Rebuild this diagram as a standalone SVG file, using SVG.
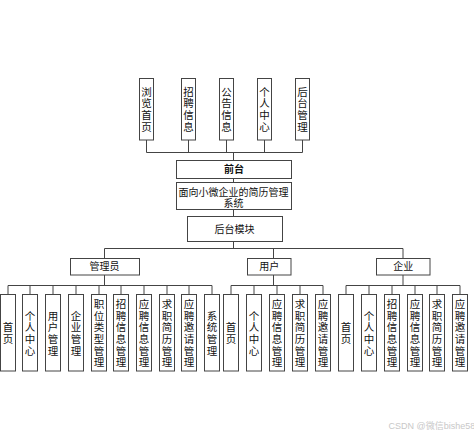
<svg xmlns="http://www.w3.org/2000/svg" width="474" height="434" viewBox="0 0 474 434">
<style>
rect{fill:#fff;stroke:#444;stroke-width:1}
.c line{stroke:#444;stroke-width:1}
text{font-family:"Noto Sans CJK SC","Liberation Sans",sans-serif;font-size:10.5px;fill:#111;text-anchor:middle}
.m{font-size:10px}
.wm{font-size:9px;fill:#c8c8c8;text-anchor:start;font-family:"Liberation Sans","Noto Sans CJK SC",sans-serif}
</style>
<rect x="0" y="0" width="474" height="434" style="stroke:none"/>
<g class="c" id="connectors">
<line x1="146.5" y1="140" x2="146.5" y2="152.5"/>
<line x1="188.5" y1="140" x2="188.5" y2="152.5"/>
<line x1="226.5" y1="140" x2="226.5" y2="152.5"/>
<line x1="264.5" y1="140" x2="264.5" y2="152.5"/>
<line x1="302.5" y1="140" x2="302.5" y2="152.5"/>
<line x1="146.5" y1="152.5" x2="302.5" y2="152.5"/>
<line x1="233.5" y1="152.5" x2="233.5" y2="160.5"/>
<line x1="233.5" y1="178.5" x2="233.5" y2="182.5"/>
<line x1="233.5" y1="209.5" x2="233.5" y2="216.5"/>
<line x1="233.5" y1="241.5" x2="233.5" y2="248.5"/>
<line x1="104.5" y1="248.5" x2="403" y2="248.5"/>
<line x1="104.5" y1="248.5" x2="104.5" y2="258.5"/>
<line x1="273.5" y1="248.5" x2="273.5" y2="258.5"/>
<line x1="403" y1="248.5" x2="403" y2="258.5"/>
<line x1="104.5" y1="275" x2="104.5" y2="285.5"/>
<line x1="273.5" y1="275" x2="273.5" y2="285.5"/>
<line x1="403" y1="275" x2="403" y2="285.5"/>
<line x1="8" y1="285.5" x2="212" y2="285.5"/>
<line x1="231" y1="285.5" x2="323" y2="285.5"/>
<line x1="346" y1="285.5" x2="460" y2="285.5"/>
<line x1="8" y1="285.5" x2="8" y2="294.5"/>
<line x1="30" y1="285.5" x2="30" y2="294.5"/>
<line x1="53" y1="285.5" x2="53" y2="294.5"/>
<line x1="76" y1="285.5" x2="76" y2="294.5"/>
<line x1="99" y1="285.5" x2="99" y2="294.5"/>
<line x1="121" y1="285.5" x2="121" y2="294.5"/>
<line x1="144" y1="285.5" x2="144" y2="294.5"/>
<line x1="167" y1="285.5" x2="167" y2="294.5"/>
<line x1="189" y1="285.5" x2="189" y2="294.5"/>
<line x1="212" y1="285.5" x2="212" y2="294.5"/>
<line x1="231" y1="285.5" x2="231" y2="294.5"/>
<line x1="254" y1="285.5" x2="254" y2="294.5"/>
<line x1="277" y1="285.5" x2="277" y2="294.5"/>
<line x1="300" y1="285.5" x2="300" y2="294.5"/>
<line x1="323" y1="285.5" x2="323" y2="294.5"/>
<line x1="346" y1="285.5" x2="346" y2="294.5"/>
<line x1="369" y1="285.5" x2="369" y2="294.5"/>
<line x1="392" y1="285.5" x2="392" y2="294.5"/>
<line x1="415" y1="285.5" x2="415" y2="294.5"/>
<line x1="437" y1="285.5" x2="437" y2="294.5"/>
<line x1="460" y1="285.5" x2="460" y2="294.5"/>
</g>
<g id="top-browse"><rect x="139.5" y="78.5" width="14" height="61.5"/><text x="146.5" y="95.7">浏<tspan x="146.5" dy="11.7">览</tspan><tspan x="146.5" dy="11.7">首</tspan><tspan x="146.5" dy="11.7">页</tspan></text></g>
<g id="top-recruit"><rect x="181.5" y="78.5" width="14" height="61.5"/><text x="188.5" y="95.7">招<tspan x="188.5" dy="11.7">聘</tspan><tspan x="188.5" dy="11.7">信</tspan><tspan x="188.5" dy="11.7">息</tspan></text></g>
<g id="top-notice"><rect x="219.5" y="78.5" width="14" height="61.5"/><text x="226.5" y="95.7">公<tspan x="226.5" dy="11.7">告</tspan><tspan x="226.5" dy="11.7">信</tspan><tspan x="226.5" dy="11.7">息</tspan></text></g>
<g id="top-personal"><rect x="257.5" y="78.5" width="14" height="61.5"/><text x="264.5" y="95.7">个<tspan x="264.5" dy="11.7">人</tspan><tspan x="264.5" dy="11.7">中</tspan><tspan x="264.5" dy="11.7">心</tspan></text></g>
<g id="top-admin"><rect x="295.5" y="78.5" width="14" height="61.5"/><text x="302.5" y="95.7">后<tspan x="302.5" dy="11.7">台</tspan><tspan x="302.5" dy="11.7">管</tspan><tspan x="302.5" dy="11.7">理</tspan></text></g>
<g id="frontend"><rect x="176.5" y="160.5" width="115" height="18"/><text class="m" x="234" y="173.3" font-weight="bold">前台</text></g>
<g id="system"><rect x="176.5" y="182.5" width="115" height="27"/><text class="m" x="233.5" y="196.3">面向小微企业的简历管理</text><text class="m" x="233.5" y="207">系统</text></g>
<g id="backend"><rect x="187.5" y="216.5" width="95" height="25"/><text class="m" x="234.5" y="232.7">后台模块</text></g>
<g id="role-admin"><rect x="70.5" y="258.5" width="69" height="16.5"/><text class="m" x="104.5" y="270.3">管理员</text></g>
<g id="role-user"><rect x="247.5" y="258.5" width="43.5" height="16.5"/><text class="m" x="269.3" y="270.3">用户</text></g>
<g id="role-company"><rect x="376.5" y="258.5" width="53.5" height="16.5"/><text class="m" x="403.3" y="270.3">企业</text></g>
<g id="a1"><rect x="0.5" y="294.5" width="15" height="76.5"/><text x="8" y="331.2">首<tspan x="8" dy="11.7">页</tspan></text></g>
<g id="a2"><rect x="22.5" y="294.5" width="15" height="76.5"/><text x="30" y="319.5">个<tspan x="30" dy="11.7">人</tspan><tspan x="30" dy="11.7">中</tspan><tspan x="30" dy="11.7">心</tspan></text></g>
<g id="a3"><rect x="45.5" y="294.5" width="15" height="76.5"/><text x="53" y="319.5">用<tspan x="53" dy="11.7">户</tspan><tspan x="53" dy="11.7">管</tspan><tspan x="53" dy="11.7">理</tspan></text></g>
<g id="a4"><rect x="68.5" y="294.5" width="15" height="76.5"/><text x="76" y="319.5">企<tspan x="76" dy="11.7">业</tspan><tspan x="76" dy="11.7">管</tspan><tspan x="76" dy="11.7">理</tspan></text></g>
<g id="a5"><rect x="91.5" y="294.5" width="15" height="76.5"/><text x="99" y="307.8">职<tspan x="99" dy="11.7">位</tspan><tspan x="99" dy="11.7">类</tspan><tspan x="99" dy="11.7">型</tspan><tspan x="99" dy="11.7">管</tspan><tspan x="99" dy="11.7">理</tspan></text></g>
<g id="a6"><rect x="113.5" y="294.5" width="15" height="76.5"/><text x="121" y="307.8">招<tspan x="121" dy="11.7">聘</tspan><tspan x="121" dy="11.7">信</tspan><tspan x="121" dy="11.7">息</tspan><tspan x="121" dy="11.7">管</tspan><tspan x="121" dy="11.7">理</tspan></text></g>
<g id="a7"><rect x="136.5" y="294.5" width="15" height="76.5"/><text x="144" y="307.8">应<tspan x="144" dy="11.7">聘</tspan><tspan x="144" dy="11.7">信</tspan><tspan x="144" dy="11.7">息</tspan><tspan x="144" dy="11.7">管</tspan><tspan x="144" dy="11.7">理</tspan></text></g>
<g id="a8"><rect x="159.5" y="294.5" width="15" height="76.5"/><text x="167" y="307.8">求<tspan x="167" dy="11.7">职</tspan><tspan x="167" dy="11.7">简</tspan><tspan x="167" dy="11.7">历</tspan><tspan x="167" dy="11.7">管</tspan><tspan x="167" dy="11.7">理</tspan></text></g>
<g id="a9"><rect x="181.5" y="294.5" width="15" height="76.5"/><text x="189" y="307.8">应<tspan x="189" dy="11.7">聘</tspan><tspan x="189" dy="11.7">邀</tspan><tspan x="189" dy="11.7">请</tspan><tspan x="189" dy="11.7">管</tspan><tspan x="189" dy="11.7">理</tspan></text></g>
<g id="a10"><rect x="204.5" y="294.5" width="15" height="76.5"/><text x="212" y="319.5">系<tspan x="212" dy="11.7">统</tspan><tspan x="212" dy="11.7">管</tspan><tspan x="212" dy="11.7">理</tspan></text></g>
<g id="u1"><rect x="223.5" y="294.5" width="15" height="76.5"/><text x="231" y="331.2">首<tspan x="231" dy="11.7">页</tspan></text></g>
<g id="u2"><rect x="246.5" y="294.5" width="15" height="76.5"/><text x="254" y="319.5">个<tspan x="254" dy="11.7">人</tspan><tspan x="254" dy="11.7">中</tspan><tspan x="254" dy="11.7">心</tspan></text></g>
<g id="u3"><rect x="269.5" y="294.5" width="15" height="76.5"/><text x="277" y="307.8">应<tspan x="277" dy="11.7">聘</tspan><tspan x="277" dy="11.7">信</tspan><tspan x="277" dy="11.7">息</tspan><tspan x="277" dy="11.7">管</tspan><tspan x="277" dy="11.7">理</tspan></text></g>
<g id="u4"><rect x="292.5" y="294.5" width="15" height="76.5"/><text x="300" y="307.8">求<tspan x="300" dy="11.7">职</tspan><tspan x="300" dy="11.7">简</tspan><tspan x="300" dy="11.7">历</tspan><tspan x="300" dy="11.7">管</tspan><tspan x="300" dy="11.7">理</tspan></text></g>
<g id="u5"><rect x="315.5" y="294.5" width="15" height="76.5"/><text x="323" y="307.8">应<tspan x="323" dy="11.7">聘</tspan><tspan x="323" dy="11.7">邀</tspan><tspan x="323" dy="11.7">请</tspan><tspan x="323" dy="11.7">管</tspan><tspan x="323" dy="11.7">理</tspan></text></g>
<g id="e1"><rect x="338.5" y="294.5" width="15" height="76.5"/><text x="346" y="331.2">首<tspan x="346" dy="11.7">页</tspan></text></g>
<g id="e2"><rect x="361.5" y="294.5" width="15" height="76.5"/><text x="369" y="319.5">个<tspan x="369" dy="11.7">人</tspan><tspan x="369" dy="11.7">中</tspan><tspan x="369" dy="11.7">心</tspan></text></g>
<g id="e3"><rect x="384.5" y="294.5" width="15" height="76.5"/><text x="392" y="307.8">招<tspan x="392" dy="11.7">聘</tspan><tspan x="392" dy="11.7">信</tspan><tspan x="392" dy="11.7">息</tspan><tspan x="392" dy="11.7">管</tspan><tspan x="392" dy="11.7">理</tspan></text></g>
<g id="e4"><rect x="407.5" y="294.5" width="15" height="76.5"/><text x="415" y="307.8">应<tspan x="415" dy="11.7">聘</tspan><tspan x="415" dy="11.7">信</tspan><tspan x="415" dy="11.7">息</tspan><tspan x="415" dy="11.7">管</tspan><tspan x="415" dy="11.7">理</tspan></text></g>
<g id="e5"><rect x="429.5" y="294.5" width="15" height="76.5"/><text x="437" y="307.8">求<tspan x="437" dy="11.7">职</tspan><tspan x="437" dy="11.7">简</tspan><tspan x="437" dy="11.7">历</tspan><tspan x="437" dy="11.7">管</tspan><tspan x="437" dy="11.7">理</tspan></text></g>
<g id="e6"><rect x="452.5" y="294.5" width="15" height="76.5"/><text x="460" y="307.8">应<tspan x="460" dy="11.7">聘</tspan><tspan x="460" dy="11.7">邀</tspan><tspan x="460" dy="11.7">请</tspan><tspan x="460" dy="11.7">管</tspan><tspan x="460" dy="11.7">理</tspan></text></g>
<text class="wm" x="388.5" y="428.5">CSDN @微信bishe58</text>
</svg>
